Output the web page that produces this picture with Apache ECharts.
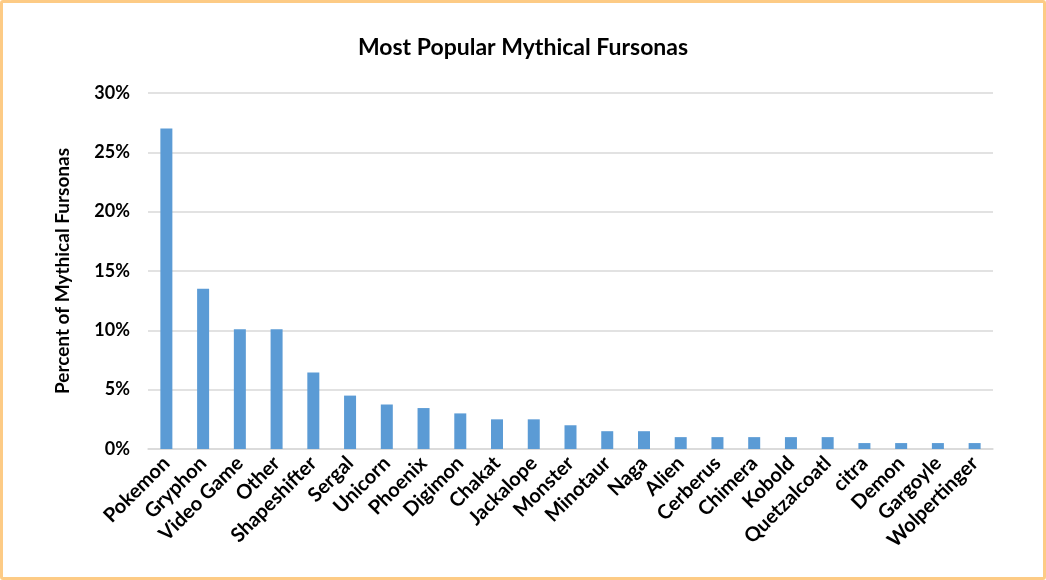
<!DOCTYPE html>
<html><head><meta charset="utf-8">
<script src="https://cdn.jsdelivr.net/npm/echarts@6/dist/echarts.min.js"></script>
<style>
html,body{margin:0;padding:0;background:#fff;}
#frame{position:absolute;left:0;top:0;width:1046px;height:580px;box-sizing:border-box;border:3px solid #FDCB85;border-radius:3px;background:#fff;}
#c{width:100%;height:100%;}
</style></head>
<body>
<div id="frame"><div id="c"></div></div>
<script>
const categories = ["Pokemon","Gryphon","Video Game","Other","Shapeshifter","Sergal","Unicorn","Phoenix","Digimon","Chakat","Jackalope","Monster","Minotaur","Naga","Alien","Cerberus","Chimera","Kobold","Quetzalcoatl","citra","Demon","Gargoyle","Wolpertinger"];
const percentValues = [27.0,13.5,10.1,10.1,6.45,4.5,3.75,3.45,3.0,2.5,2.5,2.0,1.5,1.5,1.0,1.0,1.0,1.0,1.0,0.5,0.5,0.5,0.5];
const yTicks = [0,5,10,15,20,25,30];

const FONT = 'Lato, "Open Sans", sans-serif';
const chart = echarts.init(document.getElementById('c'));
chart.setOption({
  animation:false,
  title:{text:'Most Popular Mythical Fursonas',left:'center',top:28,
    textStyle:{fontFamily:FONT,fontSize:23,fontWeight:'bold',color:'#000'}},
  grid:{left:145,right:50,top:90,bottom:128,containLabel:false},
  xAxis:{type:'category',data:categories,
    axisLine:{lineStyle:{color:'#d9d9d9',width:1.5}},
    axisTick:{show:false},
    axisLabel:{rotate:45,interval:0,margin:11,fontFamily:FONT,fontSize:20,fontWeight:'bold',color:'#000'}},
  yAxis:{type:'value',min:yTicks[0],max:yTicks[yTicks.length-1],interval:5,
    name:'Percent of Mythical Fursonas',nameLocation:'middle',nameGap:76,nameRotate:90,
    nameTextStyle:{fontFamily:FONT,fontSize:19,fontWeight:'bold',color:'#000'},
    axisLine:{show:false},axisTick:{show:false},
    splitLine:{lineStyle:{color:'#d9d9d9',width:1.5}},
    axisLabel:{margin:18,fontFamily:FONT,fontSize:18,fontWeight:'bold',color:'#000',formatter:v=>v+'%'}},
  series:[{type:'bar',data:percentValues,barWidth:12,itemStyle:{color:'#5B9BD5'}}]
});
</script>
</body></html>
